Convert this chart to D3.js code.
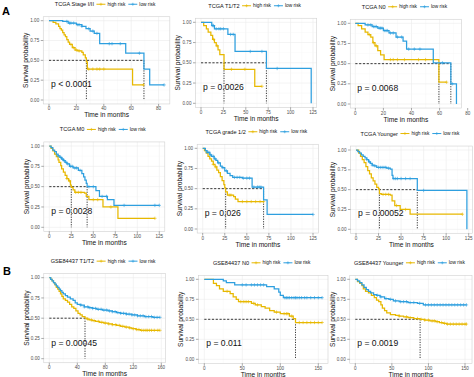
<!DOCTYPE html>
<html><head><meta charset="utf-8">
<script src="https://cdn.jsdelivr.net/npm/d3@7"></script>
<style>body{margin:0;background:#fff} text{font-family:"Liberation Sans",Arial,Helvetica,sans-serif}</style>
</head><body><svg id="c" width="474" height="377"></svg>
<script>
// ---------------- DATA ----------------
const seriesNames = ["high risk", "low risk"];
const panelTitles = ["TCGA Stage I/II","TCGA T1/T2","TCGA N0","TCGA M0","TCGA grade 1/2","TCGA Younger","GSE84437  T1/T2","GSE84437 N0","GSE84437 Younger"];
const pValues = ["p < 0.0001","p = 0.0026","p = 0.0068","p = 0.0028","p = 0.026","p = 0.00052","p = 0.00045","p = 0.011","p = 0.0019"];
const xTicks = [[0,20,40,60,80],[0,25,50,75,100,125],[0,20,40,60,80],[0,25,50,75,100,125],[0,25,50,75,100,125],[0,25,50,75,100,125],[0,40,80,120,160],[0,50,100,150],[0,50,100,150]];
const yTicks = [0,0.25,0.5,0.75,1];
const yTickLabels = ["0.00","0.25","0.50","0.75","1.00"];

// each curve: [time, survival] steps ; end time ; censor times
const a1High = [[0,1],[3,0.98],[5,0.96],[7,0.93],[8,0.90],[9,0.88],[10,0.85],[11,0.82],[12,0.80],[13,0.76],[14,0.73],[15,0.70],[17,0.66],[19,0.63],[21,0.62],[24,0.60],[25,0.57],[26.5,0.53],[27.3,0.48],[28,0.39],[61,0.19]];
const a1HighEnd = 69, a1HighCens = [16,18,20,22,29,32,35,37,40,69];
const a1Low = [[0,1],[10,0.99],[14,0.97],[20,0.95],[24,0.93],[27,0.90],[30,0.87],[33,0.84],[37,0.71],[56,0.59],[69.3,0.39],[73.5,0.19]];
const a1LowEnd = 84, a1LowCens = [13,15,16,18,21,22,24,29,32,35,44,46,52,66,84];

const a2High = [[0,1],[3,0.96],[6,0.92],[8,0.88],[11,0.84],[13,0.79],[15,0.75],[17,0.71],[19,0.66],[21,0.60],[25.7,0.42],[60,0.21]];
const a2HighEnd = 68, a2HighCens = [14,18,34,49,68];
const a2Low = [[0,1],[12,0.96],[15,0.92],[30,0.85],[38,0.64],[73,0.43],[123,0]];
const a2LowEnd = 123, a2LowCens = [13,14,17,20,22,25,33,36,55,68,85];

const a3High = [[0,1],[2,0.97],[4.5,0.93],[7,0.89],[9,0.86],[11,0.83],[12.5,0.76],[14,0.72],[16,0.66],[18,0.61],[20.5,0.55],[59.5,0.27]];
const a3HighEnd = 65, a3HighCens = [10,13,15,25,27,30,35,45,50,65];
const a3Low = [[0,1],[7,0.98],[12,0.96],[16,0.94],[20,0.91],[24,0.88],[29,0.83],[34,0.78],[36.5,0.68],[55.5,0.51],[68,0.25],[72,0]];
const a3LowEnd = 72, a3LowCens = [9,11,13,14,15,17,18,19,21,22,23,25,27,30,33,38,42,46,62,69];

const a4High = [[0,1],[2,0.97],[4,0.94],[6,0.90],[8,0.87],[10,0.83],[11,0.80],[13,0.76],[14,0.72],[16,0.68],[18,0.64],[20,0.60],[22,0.57],[24,0.52],[25,0.49],[27,0.46],[29,0.43],[40,0.42],[42,0.38],[45,0.34],[61,0.25],[78,0.11]];
const a4HighEnd = 120, a4HighCens = [20,23,30,33,36,50,55,70,120];
const a4Low = [[0,1],[2,0.98],[4,0.95],[6,0.93],[8,0.90],[10,0.88],[12,0.86],[14,0.84],[16,0.82],[18,0.80],[20,0.78],[23,0.75],[27,0.73],[33,0.70],[37,0.66],[39,0.62],[40.5,0.58],[42,0.54],[43,0.50],[53,0.45],[57,0.38],[66,0.34],[73.5,0.27]];
const a4LowEnd = 125, a4LowCens = [10,13,15,17,19,21,24,26,29,31,35,45,50,60,65,85,120,125];

const a5High = [[0,1],[2,0.97],[4,0.94],[6,0.90],[8,0.87],[10,0.84],[12,0.80],[14,0.77],[16,0.73],[18,0.70],[20,0.65],[22,0.60],[24,0.55],[25,0.51],[26,0.46],[28,0.42],[35,0.40],[37,0.37],[40,0.34]];
const a5HighEnd = 69, a5HighCens = [12,15,30,32,45,50,55,60,65,69];
const a5Low = [[0,1],[3,0.97],[5,0.95],[8,0.92],[10,0.90],[13,0.87],[15,0.85],[17,0.82],[20,0.78],[22,0.76],[25,0.72],[28,0.69],[31,0.66],[34,0.64],[45,0.63],[56,0.52],[69,0.36],[73,0.18]];
const a5LowEnd = 125, a5LowCens = [5,7,9,12,14,18,23,27,36,39,42,46,50,53,58,62,64,66,125];

const a6High = [[0,1],[3,0.96],[5,0.92],[7,0.88],[9,0.84],[11,0.79],[13,0.74],[15,0.70],[17,0.65],[19,0.61],[21,0.57],[23,0.53],[25,0.51],[26,0.45],[28,0.44],[38,0.43],[40,0.36],[43,0.30],[49,0.25],[60,0.19]];
const a6HighEnd = 118, a6HighCens = [30,33,36,45,55,118];
const a6Low = [[0,1],[2,0.98],[4,0.96],[6,0.94],[8,0.92],[10,0.90],[12,0.88],[14,0.85],[16,0.83],[18,0.81],[20,0.80],[23,0.78],[34,0.77],[38,0.76],[40,0.68],[41,0.64],[68,0.49],[123,0]];
const a6LowEnd = 123, a6LowCens = [12,15,18,21,25,27,29,31,33,36,42,44,46,50,55,60,75];

const b1High = [[0,1],[2,0.98],[4,0.96],[6,0.94],[8,0.91],[10,0.88],[12,0.86],[14,0.83],[16,0.80],[18,0.77],[20,0.74],[23,0.72],[26,0.70],[29,0.67],[32,0.64],[35,0.62],[38,0.59],[41,0.56],[44,0.54],[47,0.52],[51,0.50],[54,0.49],[57,0.48],[61,0.47],[66,0.46],[72,0.45],[78,0.44],[84,0.43],[90,0.42],[96,0.41],[102,0.40],[108,0.39],[114,0.38],[118,0.37],[124,0.36],[130,0.35]];
const b1HighEnd = 158, b1HighCens = [55,60,64,70,75,80,85,90,95,100,105,110,115,120,125,128,132,135,138,140,143,146,150,155,158];
const b1Low = [[0,1],[2,0.98],[4,0.96],[6,0.94],[8,0.92],[10,0.90],[12,0.88],[14,0.86],[16,0.84],[18,0.82],[20,0.80],[23,0.78],[26,0.76],[30,0.74],[34,0.72],[37,0.69],[40,0.67],[45,0.66],[50,0.64],[56,0.63],[62,0.62],[68,0.61],[76,0.60],[84,0.59],[90,0.58],[96,0.57],[102,0.56],[110,0.55],[118,0.54],[126,0.53],[136,0.52],[148,0.51]];
const b1LowEnd = 158, b1LowCens = [45,50,55,58,62,66,70,74,78,82,86,90,94,98,102,106,110,114,118,122,126,130,134,138,142,146,150,154,158];

const b2High = [[0,1],[12,0.95],[16,0.92],[20,0.88],[25,0.85],[34,0.82],[38,0.78],[42,0.75],[45,0.72],[62,0.70],[67,0.68],[75,0.66],[80,0.64],[86,0.61],[92,0.59],[100,0.57],[112,0.54],[117,0.51],[120,0.46]];
const b2HighEnd = 155, b2HighCens = [30,48,52,55,58,65,70,95,105,108,110,115,125,130,135,140,145,150,155];
const b2Low = [[0,1],[25,0.98],[29,0.96],[40,0.93],[82,0.91],[92,0.88],[98,0.84],[100,0.80],[104,0.77]];
const b2LowEnd = 155, b2LowCens = [50,55,62,66,70,74,78,106,108,110,112,115,118,120,122,125,128,132,135,140,145,150,155];

const b3High = [[0,1],[3,0.97],[6,0.95],[9,0.92],[11,0.88],[14,0.85],[18,0.83],[22,0.80],[26,0.77],[29,0.74],[32,0.72],[35,0.68],[37,0.64],[40,0.61],[43,0.58],[48,0.56],[55,0.55],[60,0.54],[66,0.53],[72,0.52],[80,0.51],[88.6,0.50],[95,0.49],[102,0.48],[110,0.47],[115,0.46],[120,0.45],[125,0.44]];
const b3HighEnd = 152, b3HighCens = [60,70,75,85,90,95,100,105,108,112,118,122,126,130,134,138,142,146,150,152];
const b3Low = [[0,1],[3,0.98],[6,0.96],[9,0.93],[12,0.90],[15,0.87],[18,0.85],[21,0.83],[25,0.81],[29,0.80],[34,0.78],[40,0.76],[46,0.75],[52,0.73],[60,0.72],[72,0.71],[85,0.70],[93,0.68]];
const b3LowEnd = 152, b3LowCens = [30,35,42,48,55,62,66,70,75,80,88,96,100,104,108,112,116,120,124,128,132,136,140,144,148,152];

const curves = [
 [a1High,a1HighEnd,a1HighCens,a1Low,a1LowEnd,a1LowCens],
 [a2High,a2HighEnd,a2HighCens,a2Low,a2LowEnd,a2LowCens],
 [a3High,a3HighEnd,a3HighCens,a3Low,a3LowEnd,a3LowCens],
 [a4High,a4HighEnd,a4HighCens,a4Low,a4LowEnd,a4LowCens],
 [a5High,a5HighEnd,a5HighCens,a5Low,a5LowEnd,a5LowCens],
 [a6High,a6HighEnd,a6HighCens,a6Low,a6LowEnd,a6LowCens],
 [b1High,b1HighEnd,b1HighCens,b1Low,b1LowEnd,b1LowCens],
 [b2High,b2HighEnd,b2HighCens,b2Low,b2LowEnd,b2LowCens],
 [b3High,b3HighEnd,b3HighCens,b3Low,b3LowEnd,b3LowCens]
];

// ---------------- LAYOUT ----------------
const layout = [
 {x0:49,   xT:158.6, y1:20.7,  y0:100},
 {x0:201,  xT:313,   y1:22.3,  y0:103.3},
 {x0:355.3,xT:467.7, y1:23.3,  y0:104},
 {x0:49.3, xT:159.3, y1:146,   y0:227.3},
 {x0:202.7,xT:313,   y1:148.3, y0:229},
 {x0:356,  xT:468.7, y1:150,   y0:229.3},
 {x0:49.3, xT:161.3, y1:277.7, y0:358.7},
 {x0:204.3,xT:318.3, y1:279.3, y0:359.3},
 {x0:355.3,xT:465,   y1:279.3, y0:359.3}
];
const colors = ["#E7B800", "#2E9FDF"];

const svg = d3.select("#c");
svg.append("rect").attr("width",474).attr("height",377).attr("fill","#fff");

function survAt(steps, t){ let s = steps[0][1]; for (const p of steps){ if (p[0] <= t) s = p[1]; } return s; }
function median(steps){ const p = steps.find(d => d[1] <= 0.5); return p ? p[0] : null; }

layout.forEach((L, i) => {
  const ticks = xTicks[i];
  const [hi, hiEnd, hiC, lo, loEnd, loC] = curves[i];
  const tMax = ticks[ticks.length-1];
  const x = d3.scaleLinear().domain([0, tMax]).range([L.x0, L.xT]);
  const y = d3.scaleLinear().domain([0, 1]).range([L.y0, L.y1]);
  const maxT = Math.max(hiEnd, loEnd);
  const fl = x(-0.05*maxT), fr = x(1.05*maxT), ft = y(1.05), fb = y(-0.05);
  const g = svg.append("g");

  // grid
  const minorX = d3.range(0, maxT*1.05, (ticks[1]-ticks[0])/2);
  g.selectAll(null).data(minorX).enter().append("line")
    .attr("x1", d=>x(d)).attr("x2", d=>x(d)).attr("y1", ft).attr("y2", fb)
    .attr("stroke", d => ticks.includes(d) ? "#EBEBEB" : "#F5F5F5").attr("stroke-width", d => ticks.includes(d) ? 0.6 : 0.4);
  g.selectAll(null).data(d3.range(0, 1.01, 0.125)).enter().append("line")
    .attr("x1", fl).attr("x2", fr).attr("y1", d=>y(d)).attr("y2", d=>y(d))
    .attr("stroke", (d,j) => j%2===0 ? "#EBEBEB" : "#F5F5F5").attr("stroke-width", (d,j) => j%2===0 ? 0.6 : 0.4);
  g.append("rect").attr("x", fl).attr("y", ft).attr("width", fr-fl).attr("height", fb-ft)
    .attr("fill","none").attr("stroke","#D0D0D0").attr("stroke-width",0.6);

  // axes ticks
  yTicks.forEach((v,j) => {
    g.append("line").attr("x1", fl-2.5).attr("x2", fl).attr("y1", y(v)).attr("y2", y(v)).attr("stroke","#555").attr("stroke-width",0.5);
    g.append("text").attr("x", fl-4).attr("y", y(v)).attr("dy","0.35em").attr("text-anchor","end")
      .attr("font-size",4.6).attr("fill","#4D4D4D").text(yTickLabels[j]);
  });
  ticks.forEach(v => {
    g.append("line").attr("x1", x(v)).attr("x2", x(v)).attr("y1", fb).attr("y2", fb+2.5).attr("stroke","#555").attr("stroke-width",0.5);
    g.append("text").attr("x", x(v)).attr("y", fb+6.5).attr("text-anchor","middle")
      .attr("font-size",4.6).attr("fill","#4D4D4D").text(v);
  });
  g.append("text").attr("x", (fl+fr)/2).attr("y", fb+13.5).attr("text-anchor","middle")
    .attr("font-size",6.6).attr("fill","#111").text("Time in months");
  g.append("text").attr("transform", `translate(${fl-15},${(ft+fb)/2}) rotate(-90)`).attr("text-anchor","middle")
    .attr("font-size",6.6).attr("fill","#111").text("Survival probability");

  // medians
  const meds = [median(hi), median(lo)].filter(m => m !== null);
  if (meds.length){
    const mmax = d3.max(meds);
    g.append("line").attr("x1", x(0)).attr("x2", x(mmax)).attr("y1", y(0.5)).attr("y2", y(0.5))
      .attr("stroke","#222").attr("stroke-width",0.9).attr("stroke-dasharray","2.2,1.6");
    meds.forEach(m => g.append("line").attr("x1", x(m)).attr("x2", x(m)).attr("y1", y(0.5)).attr("y2", y(0))
      .attr("stroke","#222").attr("stroke-width",0.9).attr("stroke-dasharray","1.2,1.3"));
  }

  // curves
  const line = d3.line().x(d=>x(d[0])).y(d=>y(d[1])).curve(d3.curveStepAfter);
  [[hi,hiEnd,hiC],[lo,loEnd,loC]].forEach(([st,end,cens],k) => {
    const pts = st.concat([[end, st[st.length-1][1]]]);
    g.append("path").attr("d", line(pts)).attr("fill","none").attr("stroke",colors[k]).attr("stroke-width",1.25);
    const cp = d3.path();
    cens.forEach(t => { const cx = x(t), cy = y(survAt(st,t)); cp.moveTo(cx-1.7,cy); cp.lineTo(cx+1.7,cy); cp.moveTo(cx,cy-1.7); cp.lineTo(cx,cy+1.7); });
    g.append("path").attr("d", cp.toString()).attr("stroke",colors[k]).attr("stroke-width",0.6).attr("fill","none");
  });

  // p value
  g.append("text").attr("x", x(0)+2).attr("y", y(0.2)).attr("dy","0.35em")
    .attr("font-size",8.6).attr("fill","#111").text(pValues[i]);

  // legend
  const lg = g.append("g");
  let cx = 0;
  const tt = lg.append("text").attr("x",cx).attr("y",0).attr("dy","0.35em").attr("font-size",5.6).attr("fill","#111").text(panelTitles[i]);
  cx += tt.node().getComputedTextLength() + 2.5;
  seriesNames.forEach((nm,k) => {
    lg.append("line").attr("x1",cx).attr("x2",cx+9).attr("y1",0).attr("y2",0).attr("stroke",colors[k]).attr("stroke-width",1);
    lg.append("path").attr("d",`M${cx+3},0H${cx+6}M${cx+4.5},-1.5V1.5`).attr("stroke",colors[k]).attr("stroke-width",0.6);
    cx += 11;
    const t2 = lg.append("text").attr("x",cx).attr("y",0).attr("dy","0.35em").attr("font-size",4.8).attr("fill","#111").text(nm);
    cx += t2.node().getComputedTextLength() + 3;
  });
  lg.attr("transform", `translate(${(fl+fr)/2 - cx/2}, ${ft-12.5})`);
});

svg.append("text").attr("x",2).attr("y",15).attr("font-size",11).attr("font-weight","bold").attr("fill","#000").text("A");
svg.append("text").attr("x",3).attr("y",275).attr("font-size",11).attr("font-weight","bold").attr("fill","#000").text("B");
</script></body></html>
